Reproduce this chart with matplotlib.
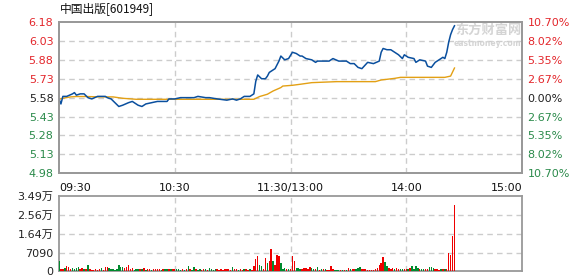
import matplotlib
matplotlib.use("Agg")
from matplotlib import pyplot as plt

plt.rcParams['font.family'] = ['DejaVu Sans', 'Noto Sans CJK SC']

TITLE = "中国出版[601949]"
PRE_CLOSE = 5.58

# price line readings (minute index from 09:30, price)
price_min = [0, 1, 2, 4, 7, 8, 9, 11, 13, 15, 17, 20, 21, 24, 25, 27, 29, 31, 33, 36,
             38, 39, 41, 43, 45, 48, 51, 54, 56, 57, 60, 63, 66, 70, 72, 76, 78, 82, 87, 90,
             92, 94, 96, 99, 101, 102, 103, 105, 107, 108, 109, 112, 114, 115, 117, 119, 121, 123, 125, 126,
             128, 131, 133, 134, 140, 142, 145, 149, 151, 153, 155, 157, 160, 163, 166, 167, 168, 170, 172, 174,
             176, 178, 179, 181, 184, 185, 187, 190, 191, 193, 195, 198, 199, 200, 201, 202, 203, 204, 205]
price = [5.57, 5.53, 5.59, 5.59, 5.61, 5.62, 5.60, 5.61, 5.61, 5.58, 5.57, 5.59, 5.59, 5.59, 5.58, 5.57, 5.54, 5.51, 5.52, 5.54,
         5.55, 5.54, 5.52, 5.51, 5.53, 5.54, 5.55, 5.55, 5.55, 5.57, 5.57, 5.58, 5.58, 5.58, 5.59, 5.58, 5.58, 5.57, 5.56, 5.57,
         5.56, 5.57, 5.59, 5.59, 5.61, 5.71, 5.76, 5.73, 5.73, 5.75, 5.78, 5.81, 5.87, 5.91, 5.88, 5.89, 5.94, 5.93, 5.91, 5.91,
         5.89, 5.88, 5.86, 5.87, 5.87, 5.89, 5.87, 5.87, 5.85, 5.85, 5.82, 5.81, 5.86, 5.85, 5.87, 5.94, 5.97, 5.96, 5.96, 5.94,
         5.92, 5.89, 5.92, 5.90, 5.89, 5.86, 5.88, 5.87, 5.83, 5.82, 5.86, 5.89, 5.90, 5.89, 5.94, 6.02, 6.08, 6.12, 6.15]

# average price line readings
avg_min = [0, 2, 6, 9, 14, 21, 28, 33, 40, 101, 104, 108, 111, 115, 116, 121, 125, 131, 144, 164,
           167, 174, 177, 200, 203, 205]
avg_price = [5.567, 5.575, 5.586, 5.589, 5.589, 5.586, 5.586, 5.575, 5.567, 5.567, 5.589, 5.607, 5.633, 5.660, 5.672, 5.678, 5.686, 5.699, 5.707, 5.707,
             5.720, 5.733, 5.741, 5.741, 5.751, 5.815]

# volume per minute (shares), and up/down flag per minute
volume = [4650, 1240, 1240, 1550, 2640, 1860, 1240, 1550, 1240, 1550, 1860, 1240, 1550, 1240, 1240, 2790, 1240, 780, 780, 930,
          780, 1240, 1550, 780, 1860, 2170, 1550, 930, 1240, 780, 1240, 2790, 2170, 2170, 1550, 2170, 2790, 1240, 1550, 620,
          930, 1240, 930, 1240, 1550, 620, 930, 1240, 620, 930, 930, 930, 930, 620, 930, 930, 930, 930, 930, 930,
          1240, 930,
          930, 780, 1240, 780, 930, 2330, 930, 780, 1860, 1240, 780, 930, 780, 1240, 930, 780, 1550, 930, 780, 930,
          1240, 780, 930, 780, 930, 1240, 930, 780, 1860, 930, 1240, 780, 930, 780, 1240, 930, 780, 930, 780,
          2330, 5890, 6980, 3100, 2330, 1240, 6200, 3880, 4650, 10230, 4650, 3100, 7750, 6980, 3880, 1240, 1550, 1240, 1240, 1240,
          6980, 4960,
          1550, 1550, 1240, 1240, 1550, 1550, 930, 1860, 1550, 1240, 1240, 1860, 780, 930, 1240, 1240, 780, 780, 2330, 930,
          780, 780, 780, 780, 780, 780, 780, 1550, 1240, 930, 1240, 1240, 1550, 1860, 1240, 930, 1240, 780, 780, 780,
          780, 1240, 1550, 3100, 3880, 6510, 4340, 2330, 1550, 930, 1550, 1240, 1550, 1240, 1240, 930, 1240, 1240, 1240, 1550,
          2330, 1240, 2330, 1550, 1240, 1240, 1240, 930, 1240, 1860, 1860, 1550, 930, 1240, 780, 1240, 1240, 1240, 1240, 8530,
          7440, 16280, 30690]
vol_dir = ("grrgrrrggg" "grrgrgrrrr" "rrgrrrgggg" "ggggrrrrrg" "ggrgrgrrgr" "rrrgrggrgr" "rg"
           "ggrgrgrggr" "ggrrgrgggg" "rrrrrrrrgr" "rgrrgrrgr"
           "rrrggrrgrrgrrrgggrgrrr"
           "gggrrrrrgg" "rgrgrgrrrr" "gggrgrgrgr" "rgggrrrrrr" "rrrrrrggrr" "rgrrggrrgr" "ggggrggrrg" "ggrrrgrgrr" "rrr")

price_ticks = [4.98, 5.13, 5.28, 5.43, 5.58, 5.73, 5.88, 6.03, 6.18]
pct_labels = ["10.70%", "8.02%", "5.35%", "2.67%", "0.00%", "2.67%", "5.35%", "8.02%", "10.70%"]
time_ticks = [0, 60, 120, 180, 240]
time_labels = ["09:30", "10:30", "11:30/13:00", "14:00", "15:00"]
vol_ticks = [0, 8725, 17450, 26175, 34900]
vol_labels = ["0", "7090", "1.64万", "2.56万", "3.49万"]

RED = "#e3262b"
GREEN = "#2a8a4a"
BLUE = "#0a4f9e"
ORANGE = "#e3a014"
GRID = "#cccccc"
EDGE = "#999999"

fig = plt.figure(figsize=(5.78, 2.76), dpi=100)
ax = fig.add_axes([59 / 578, 1 - 173.3 / 276, 463 / 578, 151.3 / 276])
axv = fig.add_axes([59 / 578, 1 - 271.3 / 276, 463 / 578, 75 / 276])

# ---------------- price panel ----------------
ax.plot(avg_min, avg_price, color=ORANGE, lw=1.0, zorder=3)
ax.plot(price_min, price, color=BLUE, lw=1.1, zorder=4)
ax.set_xlim(0, 240)
ax.set_ylim(price_ticks[0], price_ticks[-1])
ax.set_yticks(price_ticks)
ax.set_yticklabels([f"{p:.2f}" for p in price_ticks])
for lbl, p in zip(ax.get_yticklabels(), price_ticks):
    lbl.set_color(RED if p > PRE_CLOSE + 1e-6 else GREEN if p < PRE_CLOSE - 1e-6 else "#222222")
ax.set_xticks(time_ticks)
ax.set_xticklabels(time_labels)
xl = ax.get_xticklabels()
xl[0].set_ha("left")
xl[-1].set_ha("right")
ax.tick_params(axis="x", length=0, pad=7, labelsize=8, colors="#111111")
ax.tick_params(axis="y", length=0, pad=4, labelsize=8)

for t in time_ticks[1:-1]:
    ax.axvline(t, color=GRID, lw=1, ls=(0, (4, 3)), zorder=1)
for p in price_ticks[1:-1]:
    ax.axhline(p, color=GRID, lw=1, ls=(0, (4, 3)), zorder=1)

axr = ax.twinx()
axr.set_ylim(price_ticks[0], price_ticks[-1])
axr.set_yticks(price_ticks)
axr.set_yticklabels(pct_labels)
for lbl, p in zip(axr.get_yticklabels(), price_ticks):
    lbl.set_color(RED if p > PRE_CLOSE + 1e-6 else GREEN if p < PRE_CLOSE - 1e-6 else "#222222")
axr.tick_params(axis="y", length=0, pad=4, labelsize=8)

for a in (ax, axr, axv):
    for s in a.spines.values():
        s.set_color(EDGE)
        s.set_linewidth(1.3)

# watermark
ax.text(0.998, 0.95, "东方财富网", transform=ax.transAxes, ha="right", va="center",
        fontsize=9.5, fontweight="bold", color="#d4d4d4", family=["Noto Sans CJK SC"], zorder=2)
ax.text(0.998, 0.855, "eastmoney.com", transform=ax.transAxes, ha="right", va="center",
        fontsize=5.5, fontweight="bold", color="#d4d4d4", zorder=2)

fig.text(60 / 578, 1 - 9 / 276, TITLE, ha="left", va="center", fontsize=8.5,
         family=["Noto Sans CJK SC", "DejaVu Sans"], color="#111111")

# ---------------- volume panel ----------------
vol_x = list(range(len(volume)))
vol_col = ["#ee0000" if c == "r" else "#008a2e" for c in vol_dir]
axv.bar(vol_x, volume, width=0.75, color=vol_col, linewidth=0, zorder=3)
axv.set_xlim(0, 240)
axv.set_ylim(0, vol_ticks[-1])
axv.set_yticks(vol_ticks)
axv.set_yticklabels(vol_labels)
axv.set_xticks([])
axv.tick_params(axis="y", length=0, pad=4, labelsize=8, colors="#222222")
for t in time_ticks[1:-1]:
    axv.axvline(t, color=GRID, lw=1, ls=(0, (4, 3)), zorder=1)
for v in vol_ticks[1:-1]:
    axv.axhline(v, color=GRID, lw=1, ls=(0, (4, 3)), zorder=1)

fig.savefig("out.png", dpi=100)
